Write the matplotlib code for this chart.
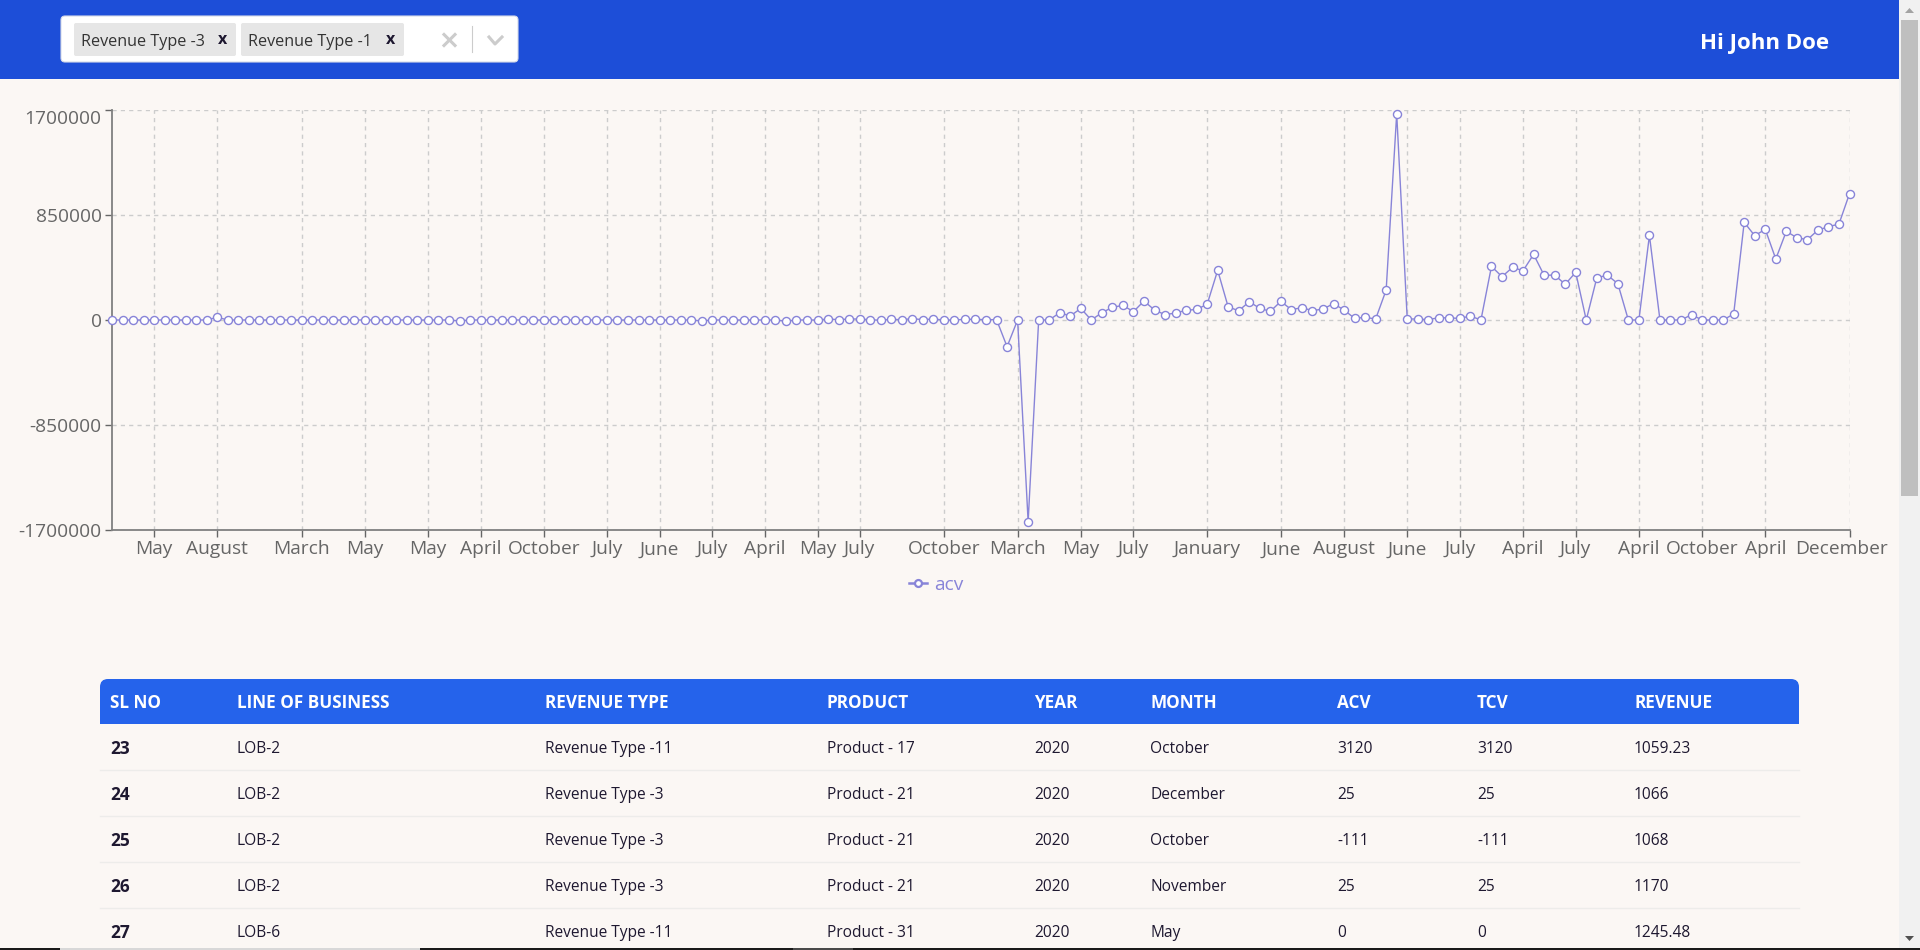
import matplotlib
matplotlib.use('Agg')
import numpy as np
import matplotlib.pyplot as plt
from matplotlib.patches import FancyBboxPatch, Rectangle, Polygon
from matplotlib.transforms import ScaledTranslation

plt.rcParams['font.family'] = ['Open Sans', 'DejaVu Sans']

# chart data, one value per record
acv = [
    0, 0, 0, 0, 0, 0, 0, 0, 0, 0,
    22000, 0, 0, 0, 0, 0, 0, 0, 0, 0,
    0, 0, 0, 0, 0, 0, 0, 0, 0, 0,
    0, 0, 0, -8000, 0, 0, 0, 0, 0, 0,
    0, 0, 0, 0, 0, 0, 0, 0, 0, 0,
    0, 0, 0, 0, 0, 0, -8000, 0, 0, 0,
    0, 0, 0, 0, -10000, 0, 0, 0, 8000, 2700,
    8000, 8000, 2700, -2700, 5400, 2700, 10800, 2700, 8000, 0,
    0, 5400, 5400, 2700, 2700, -216000, 0, -1633000, 0, 0,
    59000, 32000, 94000, 0, 59000, 102500, 118700, 67500, 153800, 81000,
    43000, 56700, 78000, 86000, 127000, 402000, 105000, 75500, 148000, 94000,
    70000, 151000, 83600, 100000, 75500, 89000, 132000, 81000, 13500, 21600,
    8100, 243000, 1670000, 8100, 8100, 2700, 19000, 16000, 13500, 32000,
    0, 434000, 351000, 426000, 399000, 531000, 361500, 364000, 289000, 386000,
    0, 340000, 364000, 294000, 0, 0, 685000, 0, 0, 0,
    43000, 0, 0, 0, 48600, 790500, 682600, 734000, 494000, 718000,
    666000, 650000, 728000, 755000, 777000, 1022500,
]
tick_index = [4, 10, 18, 24, 30, 35, 41, 47, 52, 57, 62, 67, 71, 79, 86, 92, 97, 104,
              111, 117, 123, 128, 134, 139, 145, 151, 157, 165]
tick_months = ['May', 'August', 'March', 'May', 'May', 'April', 'October', 'July', 'June',
               'July', 'April', 'May', 'July', 'October', 'March', 'May', 'July', 'January',
               'June', 'August', 'June', 'July', 'April', 'July', 'April', 'October',
               'April', 'December']
y_ticks = [-1700000, -850000, 0, 850000, 1700000]
y_tick_labels = ['-1700000', '-850000', '0', '850000', '1700000']

# table shown under the chart
table_headers = ['SL NO', 'LINE OF BUSINESS', 'REVENUE TYPE', 'PRODUCT', 'YEAR', 'MONTH',
                 'ACV', 'TCV', 'REVENUE']
sl_no = ['23', '24', '25', '26', '27']
line_of_business = ['LOB-2', 'LOB-2', 'LOB-2', 'LOB-2', 'LOB-6']
revenue_type = ['Revenue Type -11', 'Revenue Type -3', 'Revenue Type -3', 'Revenue Type -3',
                'Revenue Type -11']
product = ['Product - 17', 'Product - 21', 'Product - 21', 'Product - 21', 'Product - 31']
year = ['2020', '2020', '2020', '2020', '2020']
month = ['October', 'December', 'October', 'November', 'May']
acv_col = ['3120', '25', '-111', '25', '0']
tcv_col = ['3120', '25', '-111', '25', '0']
revenue_col = ['1059.23', '1066', '1068', '1170', '1245.48']
selected = ['Revenue Type -3', 'Revenue Type -1']

BG = '#FBF7F4'
NAVBAR = '#1D4ED8'
TABLE_HEAD = '#2563EB'
LINE = '#8884D8'
AXIS = '#666666'
DARK = '#1E1830'

fig = plt.figure(figsize=(19.2, 9.5), dpi=100, facecolor=BG)

# page chrome is drawn in pixel coordinates
page = fig.add_axes([0, 0, 1, 1], zorder=0)
page.set_xlim(0, 1920)
page.set_ylim(950, 0)
page.axis('off')

page.add_patch(Rectangle((0, 0), 1899, 79, fc=NAVBAR, ec='none'))

# multi select
page.add_patch(FancyBboxPatch((61, 16), 457, 46, boxstyle='round,pad=0,rounding_size=4',
                              fc='white', ec='#D5DAE8', lw=0.8))
chip_x = [(74, 236), (241, 404)]
for (x0, x1), name in zip(chip_x, selected):
    page.add_patch(FancyBboxPatch((x0, 23), x1 - x0, 33, boxstyle='round,pad=0,rounding_size=2',
                                  fc='#E6E6E6', ec='none'))
    page.text(x0 + 7, 41.5, name, fontsize=11.6, color='#333333', va='center', ha='left')
    page.text(x1 - 13.5, 39.5, 'x', fontsize=11.5, fontweight='bold', color=DARK,
              va='center', ha='center')
page.plot([444, 455], [34.5, 45.5], color='#CCCCCC', lw=2.2)
page.plot([444, 455], [45.5, 34.5], color='#CCCCCC', lw=2.2)
page.plot([472, 472], [26, 52], color='#CCCCCC', lw=0.8)
page.plot([489, 495, 502], [37, 44, 37], color='#CCCCCC', lw=2.2)
page.text(1700, 43, 'Hi John Doe', fontsize=16, fontweight='bold', color='white',
          va='center', ha='left')

# scrollbar on the right and the strip under the screenshot
page.add_patch(Rectangle((1899, 0), 21, 950, fc='#F1F1F1', ec='none'))
page.add_patch(Rectangle((1901, 20), 17, 476, fc='#BFBFBF', ec='none'))
page.add_patch(Polygon([(1905, 13), (1914, 13), (1909.5, 8)], fc='#A3A3A3', ec='none'))
page.add_patch(Polygon([(1905, 936), (1914, 936), (1909.5, 941)], fc='#505050', ec='none'))
page.add_patch(Rectangle((0, 948), 1920, 2, fc='#1A1A1A', ec='none'))
page.add_patch(Rectangle((60, 948), 360, 2, fc='#D8D8D8', ec='none'))
page.add_patch(Rectangle((793, 948), 60, 2, fc='#4A4A4A', ec='none'))

# table
table_left, table_right = 100, 1799
page.add_patch(FancyBboxPatch((table_left, 679), table_right - table_left, 20,
                              boxstyle='round,pad=0,rounding_size=8', fc=TABLE_HEAD, ec='none'))
page.add_patch(Rectangle((table_left, 688), table_right - table_left, 36, fc=TABLE_HEAD, ec='none'))

col_x = [110, 237, 545, 827, 1034, 1150, 1337, 1477, 1634]
columns = [sl_no, line_of_business, revenue_type, product, year, month, acv_col, tcv_col, revenue_col]
row_y = [749, 795, 841, 887, 933]
rule_y = [769.5, 815.5, 861.5, 907.5]
for x, head in zip(col_x, table_headers):
    page.text(x, 703.5, head, fontsize=12.3, fontweight='bold', color='white', va='center', ha='left')
for c, (x, col) in enumerate(zip(col_x, columns)):
    for y, cell in zip(row_y, col):
        page.text(x, y, cell, fontsize=12.4 if c == 0 else 11.2, color=DARK, va='center', ha='left',
                  fontweight='bold' if c == 0 else 'normal')
for y in rule_y:
    page.plot([table_left, table_right], [y, y], color='#EDECEA', lw=1)

# line chart
ax = fig.add_axes([112 / 1920, (950 - 530) / 950, (1849.5 - 112) / 1920, 420 / 950],
                  zorder=1, facecolor='none')
x = np.arange(len(acv))
ax.plot(x, acv, color=LINE, lw=1.0, marker='o', ms=5.8, mfc='white', mec=LINE, mew=1.0,
        clip_on=False, zorder=3, label='acv')
ax.set_xlim(0, len(acv) - 1)
ax.set_ylim(y_ticks[0], y_ticks[-1])
ax.set_xticks(tick_index)
ax.set_xticklabels(tick_months)
ax.set_yticks(y_ticks)
ax.set_yticklabels(y_tick_labels)
ax.grid(True, color='#CCCCCC', ls=(0, (3, 3)), lw=1.0, zorder=0)
ax.tick_params(axis='both', length=5, width=1, color=AXIS, labelcolor=AXIS, labelsize=13.8, pad=2.5)
for side in ['top', 'right']:
    ax.spines[side].set_visible(False)
for side in ['left', 'bottom']:
    ax.spines[side].set_color('#808080')
    ax.spines[side].set_linewidth(1.3)
# the top label sits below its tick, the last x label is pulled back inside
ax.get_yticklabels()[-1].set_va('top')
last = ax.get_xticklabels()[-1]
last.set_transform(last.get_transform() + ScaledTranslation(-0.08, 0, fig.dpi_scale_trans))

leg = ax.legend(loc='center', bbox_to_anchor=(936 / 1920, 1 - 585 / 950),
                bbox_transform=fig.transFigure, frameon=False, fontsize=13.8,
                handlelength=0.95, handletextpad=0.35)
leg.get_texts()[0].set_color(LINE)
leg.legend_handles[0].set_linewidth(1.8)
leg.legend_handles[0].set_markersize(5)
leg.legend_handles[0].set_markeredgewidth(1.6)

fig.savefig('out.png', dpi=100, facecolor=BG)
